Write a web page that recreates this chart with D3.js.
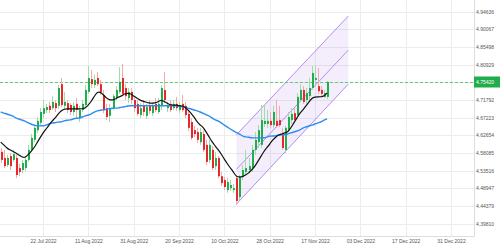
<!DOCTYPE html>
<html>
<head>
<meta charset="utf-8">
<script src="https://cdn.jsdelivr.net/npm/d3@7"></script>
<style>
  body { margin: 0; background: #fff; }
  svg { display: block; font-family: "Liberation Sans", Arial, sans-serif; }
</style>
</head>
<body>
<svg id="chart" width="500" height="248"></svg>
<script>
// daily candles, index 0 = first session on screen
const opens = [
  4.584, 4.568, 4.550, 4.573, 4.563, 4.568, 4.542, 4.537, 4.542, 4.563,
  4.589, 4.615, 4.640, 4.659, 4.682, 4.692, 4.703, 4.697, 4.710, 4.703,
  4.759, 4.703, 4.710, 4.705, 4.687, 4.708, 4.671, 4.692, 4.705, 4.739,
  4.772, 4.757, 4.775, 4.759, 4.731, 4.697, 4.677, 4.697, 4.723, 4.739,
  4.775, 4.749, 4.723, 4.739, 4.718, 4.708, 4.679, 4.703, 4.677, 4.705,
  4.684, 4.708, 4.687, 4.703, 4.744, 4.697, 4.708, 4.697, 4.708, 4.692,
  4.708, 4.703, 4.682, 4.661, 4.640, 4.635, 4.609, 4.630, 4.602, 4.563,
  4.589, 4.547, 4.568, 4.521, 4.511, 4.485, 4.490, 4.485, 4.516, 4.467,
  4.519, 4.532, 4.537, 4.542, 4.589, 4.609, 4.602, 4.656, 4.656, 4.664,
  4.653, 4.664, 4.666, 4.633, 4.589, 4.640, 4.666, 4.684, 4.679, 4.718,
  4.744, 4.718, 4.728, 4.749, 4.770, 4.754, 4.744, 4.726, 4.726
];
const highs = [
  4.594, 4.589, 4.576, 4.581, 4.589, 4.576, 4.553, 4.563, 4.571, 4.602,
  4.630, 4.656, 4.674, 4.697, 4.718, 4.708, 4.713, 4.728, 4.718, 4.757,
  4.775, 4.739, 4.718, 4.710, 4.713, 4.723, 4.703, 4.718, 4.757, 4.806,
  4.796, 4.783, 4.790, 4.770, 4.744, 4.708, 4.708, 4.734, 4.754, 4.803,
  4.811, 4.759, 4.749, 4.749, 4.728, 4.718, 4.710, 4.718, 4.708, 4.718,
  4.713, 4.723, 4.723, 4.757, 4.790, 4.713, 4.718, 4.718, 4.726, 4.713,
  4.731, 4.713, 4.692, 4.671, 4.651, 4.646, 4.646, 4.640, 4.615, 4.615,
  4.599, 4.584, 4.573, 4.532, 4.519, 4.516, 4.511, 4.501, 4.524, 4.524,
  4.550, 4.589, 4.568, 4.602, 4.635, 4.653, 4.705, 4.705, 4.692, 4.687,
  4.703, 4.718, 4.703, 4.646, 4.651, 4.687, 4.697, 4.697, 4.736, 4.759,
  4.754, 4.749, 4.775, 4.806, 4.806, 4.801, 4.754, 4.744, 4.767
];
const lows = [
  4.555, 4.542, 4.545, 4.537, 4.558, 4.516, 4.521, 4.529, 4.534, 4.558,
  4.584, 4.609, 4.633, 4.651, 4.671, 4.684, 4.684, 4.692, 4.687, 4.695,
  4.700, 4.692, 4.684, 4.679, 4.677, 4.671, 4.661, 4.687, 4.700, 4.734,
  4.749, 4.749, 4.754, 4.731, 4.684, 4.666, 4.661, 4.692, 4.718, 4.734,
  4.728, 4.718, 4.710, 4.708, 4.687, 4.677, 4.671, 4.677, 4.669, 4.682,
  4.677, 4.687, 4.682, 4.692, 4.710, 4.687, 4.687, 4.692, 4.690, 4.684,
  4.687, 4.671, 4.638, 4.615, 4.622, 4.607, 4.602, 4.584, 4.550, 4.555,
  4.537, 4.537, 4.516, 4.496, 4.485, 4.478, 4.483, 4.478, 4.446, 4.459,
  4.511, 4.524, 4.527, 4.532, 4.576, 4.594, 4.594, 4.648, 4.646, 4.646,
  4.646, 4.646, 4.648, 4.589, 4.581, 4.635, 4.656, 4.659, 4.671, 4.713,
  4.708, 4.708, 4.718, 4.744, 4.759, 4.734, 4.726, 4.723, 4.721
];
const closes = [
  4.563, 4.547, 4.568, 4.547, 4.578, 4.524, 4.532, 4.555, 4.563, 4.589,
  4.620, 4.646, 4.664, 4.687, 4.697, 4.700, 4.692, 4.713, 4.697, 4.749,
  4.705, 4.713, 4.692, 4.687, 4.703, 4.692, 4.692, 4.708, 4.744, 4.775,
  4.759, 4.770, 4.759, 4.739, 4.692, 4.674, 4.697, 4.728, 4.744, 4.765,
  4.734, 4.728, 4.739, 4.718, 4.697, 4.682, 4.697, 4.687, 4.700, 4.690,
  4.703, 4.692, 4.708, 4.749, 4.718, 4.703, 4.692, 4.708, 4.697, 4.705,
  4.692, 4.679, 4.646, 4.620, 4.630, 4.615, 4.635, 4.589, 4.558, 4.602,
  4.542, 4.568, 4.521, 4.503, 4.493, 4.506, 4.498, 4.490, 4.457, 4.519,
  4.537, 4.542, 4.547, 4.589, 4.615, 4.640, 4.666, 4.664, 4.664, 4.653,
  4.687, 4.651, 4.653, 4.594, 4.646, 4.674, 4.682, 4.666, 4.726, 4.744,
  4.713, 4.736, 4.749, 4.788, 4.775, 4.741, 4.734, 4.736, 4.765
];

// moving averages (black = fast, blue = slow)
const maFast = [
  4.609, 4.602, 4.594, 4.589, 4.586, 4.581, 4.576, 4.571, 4.568, 4.576,
  4.584, 4.594, 4.607, 4.620, 4.633, 4.643, 4.653, 4.664, 4.671, 4.682,
  4.690, 4.695, 4.695, 4.695, 4.695, 4.695, 4.695, 4.695, 4.697, 4.705,
  4.715, 4.728, 4.739, 4.739, 4.731, 4.723, 4.718, 4.718, 4.721, 4.726,
  4.728, 4.734, 4.736, 4.734, 4.728, 4.723, 4.718, 4.715, 4.713, 4.710,
  4.710, 4.710, 4.713, 4.718, 4.715, 4.710, 4.705, 4.705, 4.705, 4.703,
  4.703, 4.700, 4.692, 4.684, 4.674, 4.661, 4.653, 4.648, 4.635, 4.622,
  4.609, 4.599, 4.589, 4.578, 4.565, 4.553, 4.542, 4.532, 4.519, 4.519,
  4.519, 4.524, 4.529, 4.537, 4.545, 4.558, 4.571, 4.584, 4.594, 4.604,
  4.615, 4.622, 4.628, 4.630, 4.633, 4.635, 4.646, 4.659, 4.671, 4.684,
  4.692, 4.703, 4.713, 4.723, 4.726, 4.726, 4.726, 4.728, 4.736
];
const maSlow = [
  4.687, 4.684, 4.682, 4.679, 4.677, 4.671, 4.669, 4.666, 4.664, 4.659,
  4.656, 4.653, 4.651, 4.651, 4.651, 4.653, 4.656, 4.659, 4.659, 4.661,
  4.661, 4.664, 4.666, 4.666, 4.669, 4.671, 4.671, 4.674, 4.677, 4.679,
  4.682, 4.687, 4.690, 4.692, 4.692, 4.695, 4.695, 4.697, 4.697, 4.697,
  4.700, 4.700, 4.703, 4.703, 4.703, 4.703, 4.703, 4.703, 4.703, 4.703,
  4.703, 4.703, 4.703, 4.703, 4.703, 4.703, 4.703, 4.703, 4.703, 4.703,
  4.700, 4.700, 4.697, 4.695, 4.692, 4.690, 4.687, 4.684, 4.679, 4.677,
  4.671, 4.666, 4.664, 4.659, 4.653, 4.648, 4.643, 4.638, 4.633, 4.630,
  4.625, 4.622, 4.622, 4.620, 4.620, 4.620, 4.620, 4.620, 4.622, 4.625,
  4.625, 4.625, 4.628, 4.628, 4.628, 4.630, 4.633, 4.635, 4.638, 4.640,
  4.646, 4.648, 4.651, 4.653, 4.656, 4.659, 4.661, 4.666, 4.669
];

const yTicks = [4.94636, 4.90067, 4.85498, 4.80929, 4.76361, 4.71792, 4.67223,
  4.62654, 4.58085, 4.53516, 4.48947, 4.44379, 4.39810];
const xTickIndex = [14, 29, 44, 59, 74, 89, 104, 119, 134, 149];
const xTickLabels = ['22 Jul 2022', '11 Aug 2022', '31 Aug 2022', '20 Sep 2022', '10 Oct 2022',
  '28 Oct 2022', '17 Nov 2022', '03 Dec 2022', '17 Dec 2022', '31 Dec 2022'];

// trend channel (start / end session index)
const channelIndex = [78, 115];
const channelUpper = [4.628, 4.935];
const channelLower = [4.449, 4.759];
const lastPriceLabel = '4.75420';

class CandleChart {

    constructor() {
        this.plotW = 474;
        this.plotH = 236;
        this.up = '#1fae4b';
        this.down = '#e8262c';
        this.renderVis();
    }

    renderVis() {
        let vis = this;
        let svg = d3.select('#chart');

        vis.x = d3.scaleLinear().domain([0, 149]).range([0.7, 451]);
        vis.y = d3.scaleLinear().domain([4.39810, 4.94636]).range([223.7, 11.7]);

        // grid
        let grid = svg.append('g');
        grid.selectAll('.hg').data(yTicks).join('line')
            .attr('class', 'hg')
            .attr('x1', 0).attr('x2', vis.plotW)
            .attr('y1', d => Math.round(vis.y(d)) + 0.5)
            .attr('y2', d => Math.round(vis.y(d)) + 0.5)
            .attr('stroke', '#ececec');
        grid.selectAll('.vg').data(xTickIndex).join('line')
            .attr('class', 'vg')
            .attr('y1', 0).attr('y2', vis.plotH)
            .attr('x1', d => Math.round(vis.x(d)) + 0.5)
            .attr('x2', d => Math.round(vis.x(d)) + 0.5)
            .attr('stroke', '#ececec');

        // channel
        let cx0 = vis.x(channelIndex[0]), cx1 = vis.x(channelIndex[1]);
        svg.append('polygon')
            .attr('points', [
                [cx0, vis.y(channelLower[0])], [cx1, vis.y(channelLower[1])],
                [cx1, vis.y(channelUpper[1])], [cx0, vis.y(channelUpper[0])]
            ].map(p => p.join(',')).join(' '))
            .attr('fill', '#a97ce8')
            .attr('fill-opacity', 0.13);
        let midStart = (channelUpper[0] + channelLower[0]) / 2;
        let midEnd = (channelUpper[1] + channelLower[1]) / 2;
        [[channelUpper[0], channelUpper[1]], [channelLower[0], channelLower[1]], [midStart, midEnd]]
            .forEach(pair => {
                svg.append('line')
                    .attr('x1', cx0).attr('y1', vis.y(pair[0]))
                    .attr('x2', cx1).attr('y2', vis.y(pair[1]))
                    .attr('stroke', '#b48cf0')
                    .attr('stroke-width', 1);
            });

        // last price line
        let last = closes.length - 1;
        let py = Math.round(vis.y(closes[last])) + 0.5;
        svg.append('line')
            .attr('x1', 0).attr('x2', vis.plotW)
            .attr('y1', py).attr('y2', py)
            .attr('stroke', '#5ccf74')
            .attr('stroke-dasharray', '3,2');

        // candles
        let idx = d3.range(closes.length);
        let cg = svg.append('g');
        cg.selectAll('.wick').data(idx).join('line')
            .attr('class', 'wick')
            .attr('x1', i => Math.round(vis.x(i)) + 0.5)
            .attr('x2', i => Math.round(vis.x(i)) + 0.5)
            .attr('y1', i => vis.y(highs[i]))
            .attr('y2', i => vis.y(lows[i]))
            .attr('stroke', i => closes[i] >= opens[i] ? '#9edcad' : '#f5a9aa')
            .attr('stroke-width', 1);
        cg.selectAll('.body').data(idx).join('rect')
            .attr('class', 'body')
            .attr('x', i => Math.round(vis.x(i)))
            .attr('width', 2)
            .attr('y', i => vis.y(Math.max(opens[i], closes[i])))
            .attr('height', i => Math.max(1, Math.abs(vis.y(opens[i]) - vis.y(closes[i]))))
            .attr('fill', i => closes[i] >= opens[i] ? vis.up : vis.down);

        // moving averages
        let line = arr => d3.line()
            .x((d, i) => vis.x(i))
            .y(d => vis.y(d))
            .curve(d3.curveBasis)(arr);
        svg.append('path').attr('d', line(maSlow))
            .attr('fill', 'none').attr('stroke', '#2e8cf0').attr('stroke-width', 1.4);
        svg.append('path').attr('d', line(maFast))
            .attr('fill', 'none').attr('stroke', '#111').attr('stroke-width', 1.2);

        // frame
        svg.append('line')
            .attr('x1', vis.plotW + 0.5).attr('x2', vis.plotW + 0.5)
            .attr('y1', 0).attr('y2', vis.plotH + 0.5)
            .attr('stroke', '#dddddd');
        svg.append('line')
            .attr('x1', 0).attr('x2', vis.plotW + 0.5)
            .attr('y1', vis.plotH + 0.5).attr('y2', vis.plotH + 0.5)
            .attr('stroke', '#dddddd');

        // axes
        let yAxis = d3.axisRight(vis.y)
            .tickValues(yTicks)
            .tickFormat(d3.format('.5f'))
            .tickSize(0)
            .tickPadding(2);
        svg.append('g')
            .attr('transform', `translate(${vis.plotW},0)`)
            .call(yAxis)
            .call(g => g.select('.domain').remove())
            .selectAll('text')
            .attr('font-size', 5)
            .attr('font-family', '"Liberation Sans", Arial, sans-serif')
            .attr('fill', '#555');

        let xAxis = d3.axisBottom(vis.x)
            .tickValues(xTickIndex)
            .tickFormat((d, i) => xTickLabels[i])
            .tickSize(0)
            .tickPadding(3);
        svg.append('g')
            .attr('transform', `translate(0,${vis.plotH})`)
            .call(xAxis)
            .call(g => g.select('.domain').remove())
            .selectAll('text')
            .attr('font-size', 5)
            .attr('font-family', '"Liberation Sans", Arial, sans-serif')
            .attr('fill', '#555');

        // price tag
        svg.append('rect')
            .attr('x', vis.plotW).attr('y', py - 6)
            .attr('width', 26).attr('height', 11)
            .attr('fill', '#22ad4c');
        svg.append('text')
            .attr('x', vis.plotW + 2).attr('y', py + 1.8)
            .attr('font-size', 5)
            .attr('fill', '#fff')
            .text(lastPriceLabel);
    }
}

new CandleChart();
</script>
</body>
</html>
